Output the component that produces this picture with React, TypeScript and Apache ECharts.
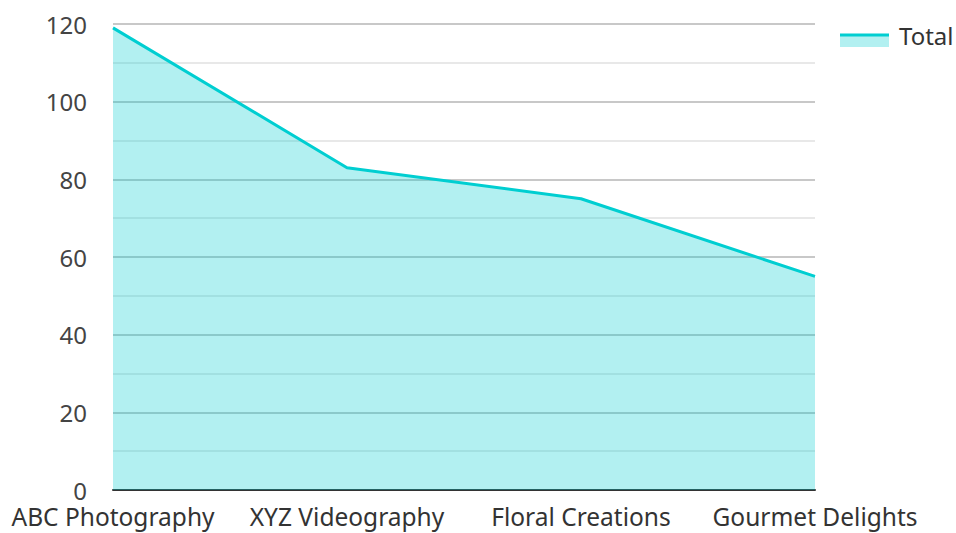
import React, { useEffect, useRef } from "react";
import * as echarts from "echarts";

const categories = ["ABC Photography", "XYZ Videography", "Floral Creations", "Gourmet Delights"];
const totals = [119, 83, 75, 55];
const seriesName = "Total";

export default function App() {
  const ref = useRef<HTMLDivElement>(null);
  useEffect(() => {
    const chart = echarts.init(ref.current!, null, { renderer: "svg" });
    const font = "Noto Sans";
    chart.setOption({
      animation: false,
      textStyle: { fontFamily: font },
      grid: { left: 113, right: 141, top: 24, bottom: 43, containLabel: false },
      xAxis: {
        type: "category",
        data: categories,
        boundaryGap: false,
        axisLine: { lineStyle: { color: "#333", width: 2 } },
        axisTick: { show: false },
        axisLabel: { color: "#333", fontSize: 24.5, fontFamily: font, margin: 14, interval: 0, hideOverlap: false },
        splitLine: { show: false },
      },
      yAxis: {
        type: "value",
        min: 0,
        max: 120,
        interval: 20,
        axisLine: { show: false },
        axisTick: { show: false },
        axisLabel: { color: "#444", fontSize: 24, fontFamily: font, margin: 26 },
        splitLine: { show: true, lineStyle: { color: "#c8c8c8", width: 2 } },
        minorTick: { show: false, splitNumber: 2 },
        minorSplitLine: { show: true, lineStyle: { color: "#e8e8e8", width: 2 } },
      },
      series: [
        {
          name: seriesName,
          type: "line",
          data: totals,
          symbol: "none",
          lineStyle: { color: "#00CED1", width: 3 },
          itemStyle: { color: "#00CED1" },
          areaStyle: { color: "#00CED1", opacity: 0.3 },
        },
      ],
      graphic: [
        { type: "rect", shape: { x: 840, y: 36, width: 49, height: 11 }, style: { fill: "#b2f0f1" } },
        { type: "line", shape: { x1: 840, y1: 35, x2: 889, y2: 35 }, style: { stroke: "#00CED1", lineWidth: 3 } },
        {
          type: "text",
          x: 899,
          y: 35,
          style: { text: seriesName, fontSize: 24, fontFamily: font, fill: "#333", textVerticalAlign: "middle", verticalAlign: "middle" },
        },
      ],
    });
    return () => chart.dispose();
  }, []);
  return <div ref={ref} style={{ width: 956, height: 533, position: "absolute", left: 0, top: 0 }} />;
}
